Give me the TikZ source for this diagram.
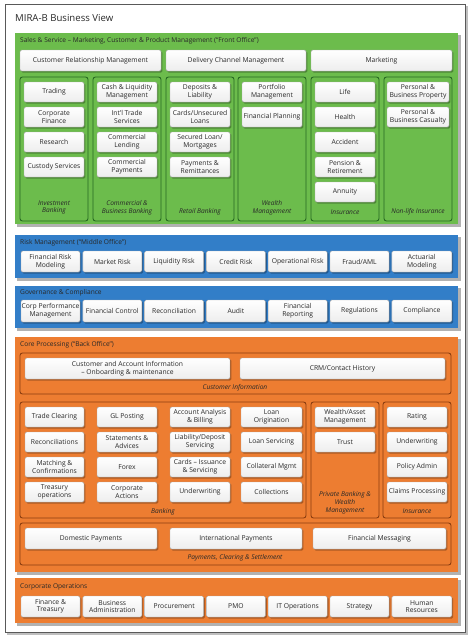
\documentclass[tikz,border=0pt]{standalone}
\usepackage{fontspec}
\setmainfont{Open Sans}
\definecolor{pgreen}{RGB}{108,188,76}
\definecolor{ggreen}{RGB}{38,104,34}
\definecolor{pblue}{RGB}{50,126,200}
\definecolor{porange}{RGB}{237,125,49}
\definecolor{gorange}{RGB}{140,62,16}
\definecolor{txt}{RGB}{40,40,40}
\tikzset{
  bx/.style={draw=gray!65, top color=white, bottom color=gray!14, rounded corners=1.5pt,
    inner sep=0.3pt, align=center, font=\fontsize{6.75}{7.6}\selectfont, text=txt},
  hdr/.style={anchor=west, inner sep=0pt, font=\fontsize{6.6}{7.4}\selectfont, text=txt},
  lbl/.style={inner sep=0pt, align=center, font=\fontsize{6.6}{7.8}\selectfont\itshape, text=txt},
  ttl/.style={anchor=west, inner sep=0pt, font=\fontsize{9.6}{11}\selectfont, text=txt},
}
\newcommand{\BX}[6]{%
  \fill[black,opacity=0.28,rounded corners=1.5pt] (#2+1.2,#3+1.2) rectangle (#4+1.4,#5+1.6);
  \node[bx,minimum width={(#4-#2)*1pt},minimum height={(#5-#3)*1pt}] (#1) at ({(#2+#4)/2},{(#3+#5)/2}) {#6};}
\newcommand{\GR}[6]{%
  \draw[draw=#6,line width=0.9pt,fill=#5,rounded corners=2.5pt] (#1,#2) rectangle (#3,#4);}
\newcommand{\PN}[5]{%
  \fill[black,opacity=0.3] (#1+2,#2+2) rectangle (#3+2.5,#4+2.5);
  \fill[#5] (#1,#2) rectangle (#3,#4);}
\begin{document}
\begin{tikzpicture}[x=1pt,y=-1pt]
\useasboundingbox (0,0) rectangle (474,640);
\fill[white] (0,0) rectangle (474,640);
% outer frame
\fill[black,opacity=0.25] (7,6) rectangle (467.5,634.5);
\draw[gray!70!black,line width=1pt,fill=white] (5,4) rectangle (465,632);
\node[ttl] (title) at (15,18) {MIRA-B Business View};

% ===== Front office (green)
\PN{15}{33}{458}{224}{pgreen}
\node[hdr] (fohdr) at (20,40.5) {Sales \& Service – Marketing, Customer \& Product Management (“Front Office”)};
\BX{crm}{20}{50}{161}{71}{Customer Relationship Management}
\BX{dcm}{166}{50}{306}{71}{Delivery Channel Management}
\BX{mkt}{311}{50}{452}{71}{Marketing}
\GR{20}{77}{88}{221}{pgreen}{ggreen}
\GR{93}{77}{161}{221}{pgreen}{ggreen}
\GR{166}{77}{234}{221}{pgreen}{ggreen}
\GR{238}{77}{306}{221}{pgreen}{ggreen}
\GR{311}{77}{379}{221}{pgreen}{ggreen}
\GR{384}{77}{452}{221}{pgreen}{ggreen}
% investment banking
\BX{ib1}{24}{82}{84}{102}{Trading}
\BX{ib2}{24}{107}{84}{127}{Corporate\\Finance}
\BX{ib3}{24}{132}{84}{152}{Research}
\BX{ib4}{24}{157}{84}{177}{Custody Services}
\node[lbl] (ibl) at (54,207.5) {Investment\\Banking};
% commercial
\BX{cb1}{97}{82}{157}{102}{Cash \& Liquidity\\Management}
\BX{cb2}{97}{107}{157}{127}{Int'l Trade\\Services}
\BX{cb3}{97}{132}{157}{152}{Commercial\\Lending}
\BX{cb4}{97}{157}{157}{177}{Commercial\\Payments}
\node[lbl] (cbl) at (127,207.5) {Commercial \&\\Business Banking};
% retail
\BX{rb1}{170}{82}{230}{102}{Deposits \&\\Liability}
\BX{rb2}{170}{107}{230}{127}{Cards/Unsecured\\Loans}
\BX{rb3}{170}{132}{230}{152}{Secured Loan/\\Mortgages}
\BX{rb4}{170}{157}{230}{177}{Payments \&\\Remittances}
\node[lbl] (rbl) at (200,212) {Retail Banking};
% wealth
\BX{wm1}{242}{82}{302}{102}{Portfolio\\Management}
\BX{wm2}{242}{107}{302}{127}{Financial Planning}
\node[lbl] (wml) at (272,207.5) {Wealth\\Management};
% insurance
\BX{in1}{315}{82}{375}{102}{Life}
\BX{in2}{315}{107}{375}{127}{Health}
\BX{in3}{315}{132}{375}{152}{Accident}
\BX{in4}{315}{157}{375}{177}{Pension \&\\Retirement}
\BX{in5}{315}{182}{375}{202}{Annuity}
\node[lbl] (inl) at (345,212) {Insurance};
% non-life
\BX{nl1}{387}{82}{449}{102}{Personal \&\\Business Property}
\BX{nl2}{387}{107}{449}{127}{Personal \&\\Business Casualty}
\node[lbl] (nll) at (418,212) {Non-life Insurance};

% ===== Risk (blue)
\PN{15}{235}{458}{278}{pblue}
\node[hdr] (rmhdr) at (20,242.5) {Risk Management (“Middle Office”)};
\BX{rm1}{21}{251}{80}{272}{Financial Risk\\Modeling}
\BX{rm2}{82.8}{251}{141.8}{272}{Market Risk}
\BX{rm3}{144.6}{251}{203.6}{272}{Liquidity Risk}
\BX{rm4}{206.4}{251}{265.4}{272}{Credit Risk}
\BX{rm5}{268.2}{251}{327.2}{272}{Operational Risk}
\BX{rm6}{330}{251}{389}{272}{Fraud/AML}
\BX{rm7}{391.8}{251}{451.8}{272}{Actuarial\\Modeling}

% ===== Governance (blue)
\PN{15}{286}{458}{328}{pblue}
\node[hdr] (gchdr) at (20,292.5) {Governance \& Compliance};
\BX{gc1}{21}{300}{80}{322}{Corp Performance\\Management}
\BX{gc2}{82.8}{300}{141.8}{322}{Financial Control}
\BX{gc3}{144.6}{300}{203.6}{322}{Reconciliation}
\BX{gc4}{206.4}{300}{265.4}{322}{Audit}
\BX{gc5}{268.2}{300}{327.2}{322}{Financial\\Reporting}
\BX{gc6}{330}{300}{389}{322}{Regulations}
\BX{gc7}{391.8}{300}{451.8}{322}{Compliance}

% ===== Core processing (orange)
\PN{15}{337}{458}{572}{porange}
\node[hdr] (cphdr) at (20,344.5) {Core Processing (“Back Office”)};
\GR{20}{353}{451}{394}{porange}{gorange}
\BX{ci1}{25}{358}{230}{379}{Customer and Account Information\\– Onboarding \& maintenance}
\BX{ci2}{240}{358}{445}{379}{CRM/Contact History}
\node[lbl] (cil) at (235,387.5) {Customer Information};
% banking
\GR{20}{402}{306}{518}{porange}{gorange}
\BX{bk11}{25}{407}{84}{427}{Trade Clearing}
\BX{bk12}{25}{432}{84}{452}{Reconciliations}
\BX{bk13}{25}{457}{84}{477}{Matching \&\\Confirmations}
\BX{bk14}{25}{482}{84}{502}{Treasury\\operations}
\BX{bk21}{97}{407}{157}{427}{GL Posting}
\BX{bk22}{97}{432}{157}{452}{Statements \&\\Advices}
\BX{bk23}{97}{457}{157}{477}{Forex}
\BX{bk24}{97}{482}{157}{502}{Corporate\\Actions}
\BX{bk31}{170}{407}{230}{427}{Account Analysis\\\& Billing}
\BX{bk32}{170}{432}{230}{452}{Liability/Deposit\\Servicing}
\BX{bk33}{170}{457}{230}{477}{Cards – Issuance\\\& Servicing}
\BX{bk34}{170}{482}{230}{502}{Underwriting}
\BX{bk41}{241}{407}{302}{427}{Loan\\Origination}
\BX{bk42}{241}{432}{302}{452}{Loan Servicing}
\BX{bk43}{241}{457}{302}{477}{Collateral Mgmt}
\BX{bk44}{241}{482}{302}{502}{Collections}
\node[lbl] (bkl) at (163,511.5) {Banking};
% private banking & wealth
\GR{311}{402}{379}{518}{porange}{gorange}
\BX{pb1}{315}{407}{375}{427}{Wealth/Asset\\Management}
\BX{pb2}{315}{432}{375}{452}{Trust}
\node[lbl] (pbl) at (345,502.5) {Private Banking \&\\Wealth\\Management};
% insurance
\GR{383}{402}{451}{518}{porange}{gorange}
\BX{ci31}{387}{407}{447}{427}{Rating}
\BX{ci32}{387}{432}{447}{452}{Underwriting}
\BX{ci33}{387}{457}{447}{477}{Policy Admin}
\BX{ci34}{387}{482}{447}{502}{Claims Processing}
\node[lbl] (cinl) at (417,511.5) {Insurance};
% payments
\GR{20}{523}{451}{565}{porange}{gorange}
\BX{py1}{25}{528}{157}{549}{Domestic Payments}
\BX{py2}{170}{528}{302}{549}{International Payments}
\BX{py3}{313}{528}{446}{549}{Financial Messaging}
\node[lbl] (pyl) at (235,557.5) {Payments, Clearing \& Settlement};

% ===== Corporate operations (orange)
\PN{15}{578}{458}{623}{porange}
\node[hdr] (cohdr) at (20,586.5) {Corporate Operations};
\BX{co1}{21}{596}{80}{617}{Finance \&\\Treasury}
\BX{co2}{82.8}{596}{141.8}{617}{Business\\Administration}
\BX{co3}{144.6}{596}{203.6}{617}{Procurement}
\BX{co4}{206.4}{596}{265.4}{617}{PMO}
\BX{co5}{268.2}{596}{327.2}{617}{IT Operations}
\BX{co6}{330}{596}{389}{617}{Strategy}
\BX{co7}{391.8}{596}{451.8}{617}{Human\\Resources}
\end{tikzpicture}
\end{document}
